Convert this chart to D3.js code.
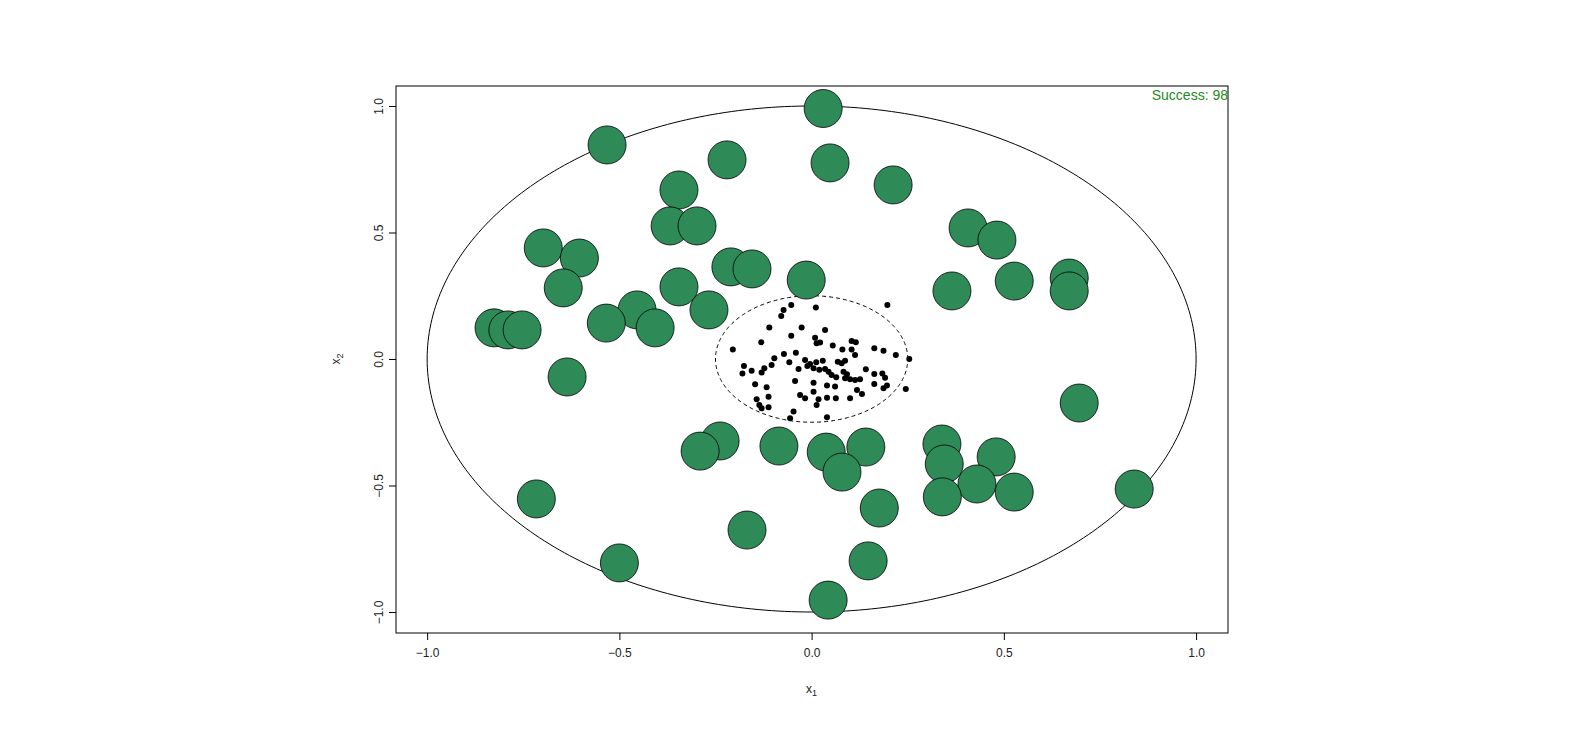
<!DOCTYPE html>
<html lang="en">
<head>
<meta charset="UTF-8">
<title>Success</title>
<style>
  body { margin: 0; background: #fff; overflow: hidden; }
  svg { display: block; }
  text { font-family: "Liberation Sans", Arial, sans-serif; }
</style>
<script src="https://d3js.org/d3.v7.min.js"></script>
</head>
<body>
<div id="chart"></div>
<script>
const width = 1593, height = 755;
const margin = {left: 396, right: 365, top: 86, bottom: 122};

// big green discs (x1, x2)
const bigX = [0.03,-0.532,-0.22,0.048,0.212,-0.345,-0.368,-0.298,0.407,0.482,-0.698,-0.604,-0.21,-0.155,-0.014,0.67,0.527,-0.646,-0.345,0.365,0.67,-0.267,-0.454,-0.826,-0.79,-0.753,-0.534,-0.407,-0.636,0.696,-0.238,-0.29,-0.085,0.038,0.141,0.339,0.345,0.079,0.48,0.43,0.527,0.34,0.839,-0.716,0.176,-0.168,0.147,-0.5,0.043];
const bigY = [0.99,0.846,0.787,0.775,0.688,0.668,0.526,0.526,0.518,0.47,0.439,0.399,0.364,0.356,0.312,0.32,0.308,0.281,0.285,0.269,0.269,0.194,0.194,0.123,0.115,0.115,0.142,0.123,-0.071,-0.174,-0.324,-0.364,-0.344,-0.368,-0.348,-0.336,-0.415,-0.447,-0.387,-0.494,-0.526,-0.545,-0.514,-0.553,-0.589,-0.676,-0.798,-0.806,-0.953];

// small black points
const smallX = [-0.053,-0.073,-0.079,0.011,0.197,-0.11,-0.026,0.035,-0.053,-0.131,0.009,0.013,0.022,0.055,0.104,0.115,0.104,0.113,0.08,0.163,0.187,0.219,0.254,-0.205,-0.072,-0.041,-0.097,-0.058,-0.017,-0.004,0.012,0.029,0.068,0.087,0.078,-0.104,-0.123,-0.176,-0.18,-0.156,-0.13,-0.034,-0.011,0.005,0.02,0.035,0.044,0.052,0.064,0.083,0.092,0.087,0.1,0.113,0.126,0.141,0.163,0.184,0.191,0.163,0.196,0.187,0.245,-0.043,0.005,0.04,0.061,-0.147,-0.117,-0.112,-0.143,-0.136,-0.13,-0.112,-0.03,-0.017,0.005,0.018,0.013,0.04,0.063,0.1,0.118,0.131,-0.047,-0.056,0.04];
const smallY = [0.213,0.194,0.17,0.204,0.213,0.124,0.124,0.115,0.092,0.066,0.084,0.062,0.065,0.053,0.071,0.066,0.038,0.016,0.038,0.042,0.033,0.016,0.0,0.038,0.02,0.025,0.003,-0.013,-0.004,-0.02,-0.013,-0.007,-0.011,-0.007,-0.017,-0.024,-0.037,-0.028,-0.057,-0.046,-0.053,-0.04,-0.028,-0.037,-0.043,-0.04,-0.05,-0.063,-0.072,-0.05,-0.06,-0.076,-0.08,-0.083,-0.08,-0.041,-0.059,-0.057,-0.074,-0.099,-0.105,-0.116,-0.119,-0.087,-0.094,-0.105,-0.109,-0.1,-0.112,-0.149,-0.159,-0.182,-0.195,-0.191,-0.142,-0.155,-0.129,-0.159,-0.182,-0.153,-0.155,-0.155,-0.123,-0.138,-0.208,-0.234,-0.23];

const ticks = [-1.0, -0.5, 0.0, 0.5, 1.0];
const successLabel = "Success: 98";

const svg = d3.select("#chart").append("svg")
  .attr("width", width).attr("height", height);

const x = d3.scaleLinear().domain([-1.081, 1.083])
  .range([margin.left, width - margin.right]);
const y = d3.scaleLinear().domain([-1.083, 1.079])
  .range([height - margin.bottom, margin.top]);

// outer unit circle
const circ = d3.range(0, 361).map(a => [Math.cos(a * Math.PI / 180), Math.sin(a * Math.PI / 180)]);
const line = d3.line().x(d => x(d[0])).y(d => y(d[1]));
svg.append("path").attr("d", line(circ))
  .attr("fill", "none").attr("stroke", "#000").attr("stroke-width", 1);

// inner dashed circle r = 0.25
svg.append("path").attr("d", line(circ.map(d => [d[0] * 0.25, d[1] * 0.25])))
  .attr("fill", "none").attr("stroke", "#000").attr("stroke-width", 1)
  .attr("stroke-dasharray", "4,3");

svg.append("g").selectAll("circle")
  .data(smallX.map((v, i) => [v, smallY[i]]))
  .join("circle")
  .attr("cx", d => x(d[0])).attr("cy", d => y(d[1]))
  .attr("r", 3).attr("fill", "#000");

svg.append("g").selectAll("circle")
  .data(bigX.map((v, i) => [v, bigY[i]]))
  .join("circle")
  .attr("cx", d => x(d[0])).attr("cy", d => y(d[1]))
  .attr("r", 19).attr("fill", "#2E8B57")
  .attr("stroke", "#000").attr("stroke-width", 0.8);

// plot box
svg.append("rect")
  .attr("x", margin.left).attr("y", margin.top)
  .attr("width", width - margin.left - margin.right)
  .attr("height", height - margin.top - margin.bottom)
  .attr("fill", "none").attr("stroke", "#000");

const fmt = d3.format(".1f");
const xAxis = svg.append("g")
  .attr("transform", `translate(0,${height - margin.bottom})`)
  .call(d3.axisBottom(x).tickValues(ticks).tickFormat(fmt).tickSize(7).tickPadding(8));
const yAxis = svg.append("g")
  .attr("transform", `translate(${margin.left},0)`)
  .call(d3.axisLeft(y).tickValues(ticks).tickFormat(fmt).tickSize(7).tickPadding(8));
[xAxis, yAxis].forEach(a => {
  a.select(".domain").remove();
  a.selectAll("text").attr("font-size", 12).attr("fill", "#222")
    .attr("font-family", "Liberation Sans, Arial, sans-serif");
});
yAxis.selectAll(".tick text")
  .attr("transform", "rotate(-90)")
  .attr("text-anchor", "middle")
  .attr("x", 0).attr("y", -17).attr("dy", "0.35em");

svg.append("text").attr("x", x(0)).attr("y", 693)
  .attr("text-anchor", "middle").attr("font-size", 12).attr("fill", "#222")
  .html('x<tspan font-size="9" dy="3">1</tspan>');
svg.append("text")
  .attr("transform", `translate(340,${y(0)}) rotate(-90)`)
  .attr("text-anchor", "middle").attr("font-size", 12).attr("fill", "#222")
  .html('x<tspan font-size="9" dy="3">2</tspan>');

svg.append("text").attr("x", width - margin.right).attr("y", margin.top + 14)
  .attr("text-anchor", "end").attr("font-size", 14).attr("fill", "#228B22")
  .text(successLabel);
</script>
</body>
</html>
